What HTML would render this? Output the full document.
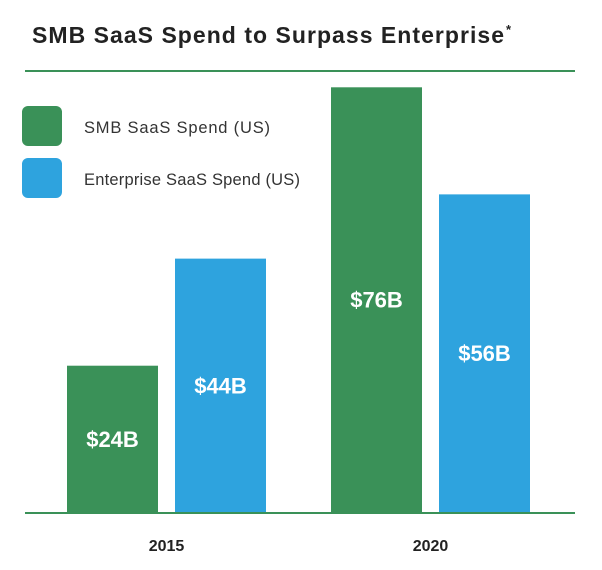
<!DOCTYPE html>
<html><head><meta charset="utf-8">
<style>
body{margin:0;background:#fff;width:602px;height:565px;overflow:hidden;font-family:"Liberation Sans",sans-serif;}
</style></head>
<body>
<svg id="chart" width="602" height="565" xmlns="http://www.w3.org/2000/svg">
  <text x="32" y="43" font-size="23" font-weight="bold" fill="#222" textLength="472" lengthAdjust="spacing">SMB SaaS Spend to Surpass Enterprise</text>
  <text x="506" y="34" font-size="13" font-weight="bold" fill="#222">*</text>
  <line x1="25" y1="71" x2="575" y2="71" stroke="#3a9158" stroke-width="2"/>
  <g>
    <rect x="22" y="106" width="40" height="40" rx="6" fill="#3a9158"/>
    <text x="84" y="133" font-size="16.5" fill="#333" textLength="186" lengthAdjust="spacing">SMB SaaS Spend (US)</text>
    <rect x="22" y="158" width="40" height="40" rx="6" fill="#2ea3de"/>
    <text x="84" y="185" font-size="16.5" fill="#333" textLength="216" lengthAdjust="spacing">Enterprise SaaS Spend (US)</text>
  </g>
  <g id="bars"></g>
  <line x1="25" y1="513" x2="575" y2="513" stroke="#3a9158" stroke-width="2"/>
</svg>
<script>
const categories = ["2015", "2020"];
const smbValues = [24, 76];
const entValues = [44, 56];
const smbLabels = ["$24B", "$76B"];
const entLabels = ["$44B", "$56B"];

const NS = "http://www.w3.org/2000/svg";
const baseY = 512;
function yHeight(v){ return 17.8 + 5.354 * v; }
const groupX = [67, 331];
const barW = 91, gap = 17;
const g = document.getElementById("bars");
function bar(x, v, label, color, name){
  const h = yHeight(v);
  const r = document.createElementNS(NS, "rect");
  r.setAttribute("x", x); r.setAttribute("y", baseY - h);
  r.setAttribute("width", barW); r.setAttribute("height", h);
  r.setAttribute("fill", color);
  
  
  g.appendChild(r);
  const t = document.createElementNS(NS, "text");
  t.setAttribute("x", x + barW/2); t.setAttribute("y", baseY - h/2 + 8);
  t.setAttribute("text-anchor", "middle"); t.setAttribute("font-size", "22");
  t.setAttribute("font-weight", "bold"); t.setAttribute("fill", "#fff");
  t.textContent = label;
  
  
  g.appendChild(t);
}
categories.forEach((c, i) => {
  const x0 = groupX[i];
  bar(x0, smbValues[i], smbLabels[i], "#3a9158", "bar-smb-" + c);
  bar(x0 + barW + gap, entValues[i], entLabels[i], "#2ea3de", "bar-enterprise-" + c);
  const t = document.createElementNS(NS, "text");
  t.setAttribute("x", x0 + barW + gap/2); t.setAttribute("y", 551);
  t.setAttribute("text-anchor", "middle"); t.setAttribute("font-size", "16");
  t.setAttribute("font-weight", "bold"); t.setAttribute("fill", "#222");
  t.textContent = c;
  
  
  g.appendChild(t);
});
</script>
</body></html>
